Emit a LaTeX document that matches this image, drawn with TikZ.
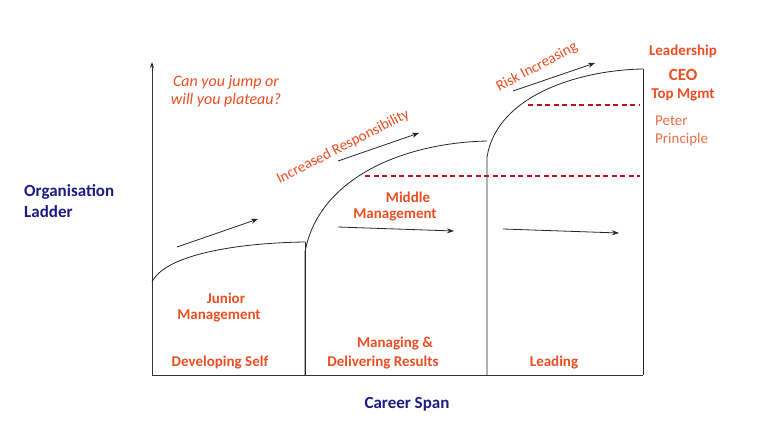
\documentclass[tikz,border=0pt]{standalone}
\usepackage{fontspec}
\setmainfont{Carlito}
\usetikzlibrary{arrows.meta}
\definecolor{orng}{RGB}{234,78,34}
\definecolor{orlight}{RGB}{236,110,70}
\definecolor{dred}{RGB}{192,20,20}
\definecolor{navy}{RGB}{28,28,130}
\tikzset{
  axisline/.style={line width=0.9pt, draw=black!80},
  curveline/.style={line width=0.8pt, draw=black!85},
  dashline/.style={line width=1.1pt, draw=dred, dash pattern=on 5pt off 3.5pt},
  arr/.style={line width=0.8pt, draw=black!85, -{Stealth[length=7pt,width=5pt]}},
  lbl/.style={text=orng, font=\bfseries\fontsize{15}{18}\selectfont, inner sep=0pt},
  ital/.style={text=orng, font=\itshape\fontsize{16}{18}\selectfont, inner sep=0pt, align=center},
  rot/.style={text=orng, font=\fontsize{15}{17}\selectfont, inner sep=0pt},
  navylbl/.style={text=navy, font=\bfseries\fontsize{17}{21}\selectfont, inner sep=0pt},
}
\begin{document}
\begin{tikzpicture}[x=1pt,y=-1pt]
\useasboundingbox (0,0) rectangle (768,435);
% axes
\coordinate (o) at (152,375);
\coordinate (ytop) at (152,62);
\coordinate (xend) at (643,375);
\draw[axisline, -{Stealth[length=6pt,width=4pt]}] (o) -- (ytop);
\draw[axisline] (o) -- (xend);
% steps
\coordinate (c1s) at (152,282);
\coordinate (c1e) at (305,242);
\coordinate (v1b) at (305,375);
\coordinate (c2s) at (305,252);
\coordinate (c2e) at (487,141);
\coordinate (v2b) at (487,375);
\coordinate (c3s) at (487,157);
\coordinate (c3e) at (643,69);
\coordinate (v3b) at (643,375);
\draw[curveline] (c1s) .. controls (165,255) and (235,243) .. (c1e);
\draw[curveline] (v1b) -- (c1e);
\draw[curveline] (v1b) -- (c2s) .. controls (318,180) and (400,143) .. (c2e);
\draw[curveline] (v2b) -- (c3s) .. controls (497,95) and (580,70) .. (c3e);
\draw[curveline] (v3b) -- (c3e);
% dashed lines
\coordinate (d1a) at (528,105);
\coordinate (d1b) at (640,105);
\coordinate (d2a) at (365,176);
\coordinate (d2b) at (640,176);
\draw[dashline] (d1a) -- (d1b);
\draw[dashline] (d2a) -- (d2b);
% arrows
\coordinate (a1s) at (177,247); \coordinate (a1e) at (258,219);
\coordinate (a2s) at (338,161); \coordinate (a2e) at (419,133);
\coordinate (a3s) at (338,227); \coordinate (a3e) at (454,231);
\coordinate (a4s) at (503,229); \coordinate (a4e) at (619,233);
\coordinate (a5s) at (513,91);  \coordinate (a5e) at (595,63);
\draw[arr] (a1s) -- (a1e);
\draw[arr] (a2s) -- (a2e);
\draw[arr] (a3s) -- (a3e);
\draw[arr] (a4s) -- (a4e);
\draw[arr] (a5s) -- (a5e);
% texts
\node[ital] (jump) at (226,91) {Can you jump or\\will you plateau?};
\node[rot, rotate=27] (resp) at (343,147) {Increased Responsibility};
\node[rot, rotate=28] (risk) at (537,67) {Risk Increasing};
\node[lbl] (lead) at (683,51) {Leadership};
\node[lbl, font=\bfseries\fontsize{17}{18}\selectfont] (ceo) at (683,75) {CEO};
\node[lbl] (top) at (683,95) {Top Mgmt};
\node[text=orlight, font=\fontsize{15}{18}\selectfont, inner sep=0pt, align=left, anchor=west] (peter) at (655,131) {Peter\\Principle};
\node[lbl] (mid1) at (408,197) {Middle};
\node[lbl] (mid2) at (395,215) {Management};
\node[lbl] (jun1) at (226,298) {Junior};
\node[lbl] (jun2) at (219,316) {Management};
\node[lbl] (dev) at (220,363) {Developing Self};
\node[lbl] (man1) at (395,344) {Managing \&};
\node[lbl] (man2) at (383,363) {Delivering Results};
\node[lbl] (leading) at (554,363) {Leading};
\node[navylbl] (career) at (407,404) {Career Span};
\node[navylbl, align=left, anchor=west] (org) at (24,201) {Organisation\\Ladder};
\end{tikzpicture}
\end{document}
